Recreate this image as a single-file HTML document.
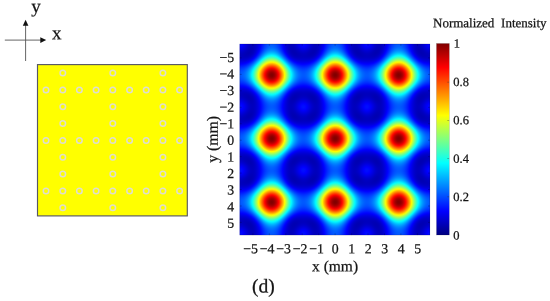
<!DOCTYPE html>
<html><head><meta charset="utf-8"><title>fig</title>
<style>html,body{margin:0;padding:0;background:#fff}svg{display:block}text{font-family:"Liberation Serif",serif;fill:#151515;stroke:#151515;stroke-width:0.25px}</style></head><body>
<svg width="550" height="301" viewBox="0 0 550 301">
<defs>
<linearGradient id="g0" gradientUnits="userSpaceOnUse" x1="0" y1="0" x2="32" y2="0" spreadMethod="reflect"><stop offset="0" stop-color="#800000"/><stop offset="0.03125" stop-color="#820000"/><stop offset="0.0625" stop-color="#8b0000"/><stop offset="0.09375" stop-color="#980000"/><stop offset="0.125" stop-color="#ab0000"/><stop offset="0.1562" stop-color="#c30000"/><stop offset="0.1875" stop-color="#e00000"/><stop offset="0.2188" stop-color="#ff0100"/><stop offset="0.25" stop-color="#ff2600"/><stop offset="0.2812" stop-color="#ff4d00"/><stop offset="0.3125" stop-color="#ff7600"/><stop offset="0.3438" stop-color="#ffa100"/><stop offset="0.375" stop-color="#ffcd00"/><stop offset="0.4062" stop-color="#fffa00"/><stop offset="0.4375" stop-color="#d9ff26"/><stop offset="0.4688" stop-color="#aeff51"/><stop offset="0.5" stop-color="#85ff7a"/><stop offset="0.5312" stop-color="#5effa1"/><stop offset="0.5625" stop-color="#39ffc6"/><stop offset="0.5938" stop-color="#18ffe7"/><stop offset="0.625" stop-color="#00f8ff"/><stop offset="0.6562" stop-color="#00dcff"/><stop offset="0.6875" stop-color="#00c3ff"/><stop offset="0.7188" stop-color="#00adff"/><stop offset="0.75" stop-color="#009aff"/><stop offset="0.7812" stop-color="#008aff"/><stop offset="0.8125" stop-color="#007dff"/><stop offset="0.8438" stop-color="#0071ff"/><stop offset="0.875" stop-color="#0069ff"/><stop offset="0.9062" stop-color="#0062ff"/><stop offset="0.9375" stop-color="#005dff"/><stop offset="0.9688" stop-color="#005aff"/><stop offset="1" stop-color="#0059ff"/></linearGradient>
<linearGradient id="g1" gradientUnits="userSpaceOnUse" x1="0" y1="0" x2="32" y2="0" spreadMethod="reflect"><stop offset="0" stop-color="#820000"/><stop offset="0.03125" stop-color="#850000"/><stop offset="0.0625" stop-color="#8d0000"/><stop offset="0.09375" stop-color="#9b0000"/><stop offset="0.125" stop-color="#ae0000"/><stop offset="0.1562" stop-color="#c60000"/><stop offset="0.1875" stop-color="#e20000"/><stop offset="0.2188" stop-color="#ff0400"/><stop offset="0.25" stop-color="#ff2800"/><stop offset="0.2812" stop-color="#ff4f00"/><stop offset="0.3125" stop-color="#ff7800"/><stop offset="0.3438" stop-color="#ffa300"/><stop offset="0.375" stop-color="#ffcf00"/><stop offset="0.4062" stop-color="#fffc00"/><stop offset="0.4375" stop-color="#d7ff28"/><stop offset="0.4688" stop-color="#acff53"/><stop offset="0.5" stop-color="#83ff7c"/><stop offset="0.5312" stop-color="#5cffa3"/><stop offset="0.5625" stop-color="#38ffc7"/><stop offset="0.5938" stop-color="#16ffe9"/><stop offset="0.625" stop-color="#00f6ff"/><stop offset="0.6562" stop-color="#00dbff"/><stop offset="0.6875" stop-color="#00c2ff"/><stop offset="0.7188" stop-color="#00acff"/><stop offset="0.75" stop-color="#0099ff"/><stop offset="0.7812" stop-color="#0089ff"/><stop offset="0.8125" stop-color="#007cff"/><stop offset="0.8438" stop-color="#0071ff"/><stop offset="0.875" stop-color="#0068ff"/><stop offset="0.9062" stop-color="#0061ff"/><stop offset="0.9375" stop-color="#005cff"/><stop offset="0.9688" stop-color="#0059ff"/><stop offset="1" stop-color="#0059ff"/></linearGradient>
<linearGradient id="g2" gradientUnits="userSpaceOnUse" x1="0" y1="0" x2="32" y2="0" spreadMethod="reflect"><stop offset="0" stop-color="#8b0000"/><stop offset="0.03125" stop-color="#8d0000"/><stop offset="0.0625" stop-color="#960000"/><stop offset="0.09375" stop-color="#a30000"/><stop offset="0.125" stop-color="#b60000"/><stop offset="0.1562" stop-color="#ce0000"/><stop offset="0.1875" stop-color="#ea0000"/><stop offset="0.2188" stop-color="#ff0b00"/><stop offset="0.25" stop-color="#ff2f00"/><stop offset="0.2812" stop-color="#ff5600"/><stop offset="0.3125" stop-color="#ff7f00"/><stop offset="0.3438" stop-color="#ffaa00"/><stop offset="0.375" stop-color="#ffd600"/><stop offset="0.4062" stop-color="#fdff02"/><stop offset="0.4375" stop-color="#d1ff2e"/><stop offset="0.4688" stop-color="#a7ff58"/><stop offset="0.5" stop-color="#7eff81"/><stop offset="0.5312" stop-color="#57ffa8"/><stop offset="0.5625" stop-color="#33ffcc"/><stop offset="0.5938" stop-color="#12ffed"/><stop offset="0.625" stop-color="#00f2ff"/><stop offset="0.6562" stop-color="#00d7ff"/><stop offset="0.6875" stop-color="#00beff"/><stop offset="0.7188" stop-color="#00a9ff"/><stop offset="0.75" stop-color="#0096ff"/><stop offset="0.7812" stop-color="#0086ff"/><stop offset="0.8125" stop-color="#0079ff"/><stop offset="0.8438" stop-color="#006eff"/><stop offset="0.875" stop-color="#0065ff"/><stop offset="0.9062" stop-color="#005fff"/><stop offset="0.9375" stop-color="#005aff"/><stop offset="0.9688" stop-color="#0057ff"/><stop offset="1" stop-color="#0056ff"/></linearGradient>
<linearGradient id="g3" gradientUnits="userSpaceOnUse" x1="0" y1="0" x2="32" y2="0" spreadMethod="reflect"><stop offset="0" stop-color="#980000"/><stop offset="0.03125" stop-color="#9b0000"/><stop offset="0.0625" stop-color="#a30000"/><stop offset="0.09375" stop-color="#b10000"/><stop offset="0.125" stop-color="#c30000"/><stop offset="0.1562" stop-color="#db0000"/><stop offset="0.1875" stop-color="#f60000"/><stop offset="0.2188" stop-color="#ff1700"/><stop offset="0.25" stop-color="#ff3b00"/><stop offset="0.2812" stop-color="#ff6100"/><stop offset="0.3125" stop-color="#ff8a00"/><stop offset="0.3438" stop-color="#ffb500"/><stop offset="0.375" stop-color="#ffe000"/><stop offset="0.4062" stop-color="#f3ff0c"/><stop offset="0.4375" stop-color="#c8ff37"/><stop offset="0.4688" stop-color="#9eff61"/><stop offset="0.5" stop-color="#75ff8a"/><stop offset="0.5312" stop-color="#4fffb0"/><stop offset="0.5625" stop-color="#2bffd4"/><stop offset="0.5938" stop-color="#0afff5"/><stop offset="0.625" stop-color="#00ebff"/><stop offset="0.6562" stop-color="#00d0ff"/><stop offset="0.6875" stop-color="#00b8ff"/><stop offset="0.7188" stop-color="#00a3ff"/><stop offset="0.75" stop-color="#0091ff"/><stop offset="0.7812" stop-color="#0081ff"/><stop offset="0.8125" stop-color="#0074ff"/><stop offset="0.8438" stop-color="#0069ff"/><stop offset="0.875" stop-color="#0061ff"/><stop offset="0.9062" stop-color="#005bff"/><stop offset="0.9375" stop-color="#0056ff"/><stop offset="0.9688" stop-color="#0053ff"/><stop offset="1" stop-color="#0052ff"/></linearGradient>
<linearGradient id="g4" gradientUnits="userSpaceOnUse" x1="0" y1="0" x2="32" y2="0" spreadMethod="reflect"><stop offset="0" stop-color="#ab0000"/><stop offset="0.03125" stop-color="#ae0000"/><stop offset="0.0625" stop-color="#b60000"/><stop offset="0.09375" stop-color="#c30000"/><stop offset="0.125" stop-color="#d50000"/><stop offset="0.1562" stop-color="#ec0000"/><stop offset="0.1875" stop-color="#ff0900"/><stop offset="0.2188" stop-color="#ff2800"/><stop offset="0.25" stop-color="#ff4b00"/><stop offset="0.2812" stop-color="#ff7100"/><stop offset="0.3125" stop-color="#ff9900"/><stop offset="0.3438" stop-color="#ffc300"/><stop offset="0.375" stop-color="#ffee00"/><stop offset="0.4062" stop-color="#e5ff1a"/><stop offset="0.4375" stop-color="#baff45"/><stop offset="0.4688" stop-color="#91ff6e"/><stop offset="0.5" stop-color="#69ff96"/><stop offset="0.5312" stop-color="#43ffbc"/><stop offset="0.5625" stop-color="#20ffdf"/><stop offset="0.5938" stop-color="#00ffff"/><stop offset="0.625" stop-color="#00e1ff"/><stop offset="0.6562" stop-color="#00c7ff"/><stop offset="0.6875" stop-color="#00afff"/><stop offset="0.7188" stop-color="#009bff"/><stop offset="0.75" stop-color="#0089ff"/><stop offset="0.7812" stop-color="#007aff"/><stop offset="0.8125" stop-color="#006dff"/><stop offset="0.8438" stop-color="#0063ff"/><stop offset="0.875" stop-color="#005bff"/><stop offset="0.9062" stop-color="#0055ff"/><stop offset="0.9375" stop-color="#0051ff"/><stop offset="0.9688" stop-color="#004eff"/><stop offset="1" stop-color="#004dff"/></linearGradient>
<linearGradient id="g5" gradientUnits="userSpaceOnUse" x1="0" y1="0" x2="32" y2="0" spreadMethod="reflect"><stop offset="0" stop-color="#c30000"/><stop offset="0.03125" stop-color="#c60000"/><stop offset="0.0625" stop-color="#ce0000"/><stop offset="0.09375" stop-color="#db0000"/><stop offset="0.125" stop-color="#ec0000"/><stop offset="0.1562" stop-color="#ff0400"/><stop offset="0.1875" stop-color="#ff1f00"/><stop offset="0.2188" stop-color="#ff3e00"/><stop offset="0.25" stop-color="#ff6000"/><stop offset="0.2812" stop-color="#ff8500"/><stop offset="0.3125" stop-color="#ffad00"/><stop offset="0.3438" stop-color="#ffd600"/><stop offset="0.375" stop-color="#feff01"/><stop offset="0.4062" stop-color="#d3ff2c"/><stop offset="0.4375" stop-color="#a9ff56"/><stop offset="0.4688" stop-color="#81ff7e"/><stop offset="0.5" stop-color="#5affa5"/><stop offset="0.5312" stop-color="#35ffca"/><stop offset="0.5625" stop-color="#12ffed"/><stop offset="0.5938" stop-color="#00f1ff"/><stop offset="0.625" stop-color="#00d5ff"/><stop offset="0.6562" stop-color="#00bbff"/><stop offset="0.6875" stop-color="#00a4ff"/><stop offset="0.7188" stop-color="#0090ff"/><stop offset="0.75" stop-color="#007fff"/><stop offset="0.7812" stop-color="#0071ff"/><stop offset="0.8125" stop-color="#0065ff"/><stop offset="0.8438" stop-color="#005bff"/><stop offset="0.875" stop-color="#0053ff"/><stop offset="0.9062" stop-color="#004dff"/><stop offset="0.9375" stop-color="#0049ff"/><stop offset="0.9688" stop-color="#0047ff"/><stop offset="1" stop-color="#0046ff"/></linearGradient>
<linearGradient id="g6" gradientUnits="userSpaceOnUse" x1="0" y1="0" x2="32" y2="0" spreadMethod="reflect"><stop offset="0" stop-color="#e00000"/><stop offset="0.03125" stop-color="#e20000"/><stop offset="0.0625" stop-color="#ea0000"/><stop offset="0.09375" stop-color="#f60000"/><stop offset="0.125" stop-color="#ff0900"/><stop offset="0.1562" stop-color="#ff1f00"/><stop offset="0.1875" stop-color="#ff3900"/><stop offset="0.2188" stop-color="#ff5700"/><stop offset="0.25" stop-color="#ff7900"/><stop offset="0.2812" stop-color="#ff9e00"/><stop offset="0.3125" stop-color="#ffc400"/><stop offset="0.3438" stop-color="#ffed00"/><stop offset="0.375" stop-color="#e8ff17"/><stop offset="0.4062" stop-color="#beff41"/><stop offset="0.4375" stop-color="#95ff6a"/><stop offset="0.4688" stop-color="#6dff92"/><stop offset="0.5" stop-color="#47ffb8"/><stop offset="0.5312" stop-color="#23ffdc"/><stop offset="0.5625" stop-color="#01fffe"/><stop offset="0.5938" stop-color="#00e1ff"/><stop offset="0.625" stop-color="#00c5ff"/><stop offset="0.6562" stop-color="#00adff"/><stop offset="0.6875" stop-color="#0097ff"/><stop offset="0.7188" stop-color="#0084ff"/><stop offset="0.75" stop-color="#0073ff"/><stop offset="0.7812" stop-color="#0066ff"/><stop offset="0.8125" stop-color="#005aff"/><stop offset="0.8438" stop-color="#0051ff"/><stop offset="0.875" stop-color="#004aff"/><stop offset="0.9062" stop-color="#0044ff"/><stop offset="0.9375" stop-color="#0041ff"/><stop offset="0.9688" stop-color="#003eff"/><stop offset="1" stop-color="#003eff"/></linearGradient>
<linearGradient id="g7" gradientUnits="userSpaceOnUse" x1="0" y1="0" x2="32" y2="0" spreadMethod="reflect"><stop offset="0" stop-color="#ff0100"/><stop offset="0.03125" stop-color="#ff0400"/><stop offset="0.0625" stop-color="#ff0b00"/><stop offset="0.09375" stop-color="#ff1700"/><stop offset="0.125" stop-color="#ff2800"/><stop offset="0.1562" stop-color="#ff3e00"/><stop offset="0.1875" stop-color="#ff5700"/><stop offset="0.2188" stop-color="#ff7500"/><stop offset="0.25" stop-color="#ff9600"/><stop offset="0.2812" stop-color="#ffba00"/><stop offset="0.3125" stop-color="#ffe000"/><stop offset="0.3438" stop-color="#f7ff08"/><stop offset="0.375" stop-color="#ceff31"/><stop offset="0.4062" stop-color="#a6ff59"/><stop offset="0.4375" stop-color="#7dff82"/><stop offset="0.4688" stop-color="#56ffa9"/><stop offset="0.5" stop-color="#31ffce"/><stop offset="0.5312" stop-color="#0efff1"/><stop offset="0.5625" stop-color="#00ecff"/><stop offset="0.5938" stop-color="#00cfff"/><stop offset="0.625" stop-color="#00b4ff"/><stop offset="0.6562" stop-color="#009cff"/><stop offset="0.6875" stop-color="#0087ff"/><stop offset="0.7188" stop-color="#0075ff"/><stop offset="0.75" stop-color="#0066ff"/><stop offset="0.7812" stop-color="#0059ff"/><stop offset="0.8125" stop-color="#004eff"/><stop offset="0.8438" stop-color="#0045ff"/><stop offset="0.875" stop-color="#003fff"/><stop offset="0.9062" stop-color="#003aff"/><stop offset="0.9375" stop-color="#0036ff"/><stop offset="0.9688" stop-color="#0034ff"/><stop offset="1" stop-color="#0034ff"/></linearGradient>
<linearGradient id="g8" gradientUnits="userSpaceOnUse" x1="0" y1="0" x2="32" y2="0" spreadMethod="reflect"><stop offset="0" stop-color="#ff2600"/><stop offset="0.03125" stop-color="#ff2800"/><stop offset="0.0625" stop-color="#ff2f00"/><stop offset="0.09375" stop-color="#ff3b00"/><stop offset="0.125" stop-color="#ff4b00"/><stop offset="0.1562" stop-color="#ff6000"/><stop offset="0.1875" stop-color="#ff7900"/><stop offset="0.2188" stop-color="#ff9600"/><stop offset="0.25" stop-color="#ffb600"/><stop offset="0.2812" stop-color="#ffd900"/><stop offset="0.3125" stop-color="#fffe00"/><stop offset="0.3438" stop-color="#d9ff26"/><stop offset="0.375" stop-color="#b2ff4d"/><stop offset="0.4062" stop-color="#8aff75"/><stop offset="0.4375" stop-color="#63ff9c"/><stop offset="0.4688" stop-color="#3dffc2"/><stop offset="0.5" stop-color="#19ffe6"/><stop offset="0.5312" stop-color="#00f6ff"/><stop offset="0.5625" stop-color="#00d6ff"/><stop offset="0.5938" stop-color="#00baff"/><stop offset="0.625" stop-color="#00a0ff"/><stop offset="0.6562" stop-color="#0089ff"/><stop offset="0.6875" stop-color="#0075ff"/><stop offset="0.7188" stop-color="#0064ff"/><stop offset="0.75" stop-color="#0056ff"/><stop offset="0.7812" stop-color="#004aff"/><stop offset="0.8125" stop-color="#0040ff"/><stop offset="0.8438" stop-color="#0038ff"/><stop offset="0.875" stop-color="#0032ff"/><stop offset="0.9062" stop-color="#002eff"/><stop offset="0.9375" stop-color="#002bff"/><stop offset="0.9688" stop-color="#0029ff"/><stop offset="1" stop-color="#0028ff"/></linearGradient>
<linearGradient id="g9" gradientUnits="userSpaceOnUse" x1="0" y1="0" x2="32" y2="0" spreadMethod="reflect"><stop offset="0" stop-color="#ff4d00"/><stop offset="0.03125" stop-color="#ff4f00"/><stop offset="0.0625" stop-color="#ff5600"/><stop offset="0.09375" stop-color="#ff6100"/><stop offset="0.125" stop-color="#ff7100"/><stop offset="0.1562" stop-color="#ff8500"/><stop offset="0.1875" stop-color="#ff9e00"/><stop offset="0.2188" stop-color="#ffba00"/><stop offset="0.25" stop-color="#ffd900"/><stop offset="0.2812" stop-color="#fffb00"/><stop offset="0.3125" stop-color="#dfff20"/><stop offset="0.3438" stop-color="#b9ff46"/><stop offset="0.375" stop-color="#93ff6c"/><stop offset="0.4062" stop-color="#6cff93"/><stop offset="0.4375" stop-color="#46ffb9"/><stop offset="0.4688" stop-color="#21ffde"/><stop offset="0.5" stop-color="#00fdff"/><stop offset="0.5312" stop-color="#00dcff"/><stop offset="0.5625" stop-color="#00beff"/><stop offset="0.5938" stop-color="#00a3ff"/><stop offset="0.625" stop-color="#008aff"/><stop offset="0.6562" stop-color="#0075ff"/><stop offset="0.6875" stop-color="#0062ff"/><stop offset="0.7188" stop-color="#0052ff"/><stop offset="0.75" stop-color="#0045ff"/><stop offset="0.7812" stop-color="#003aff"/><stop offset="0.8125" stop-color="#0031ff"/><stop offset="0.8438" stop-color="#002aff"/><stop offset="0.875" stop-color="#0025ff"/><stop offset="0.9062" stop-color="#0021ff"/><stop offset="0.9375" stop-color="#001eff"/><stop offset="0.9688" stop-color="#001cff"/><stop offset="1" stop-color="#001cff"/></linearGradient>
<linearGradient id="g10" gradientUnits="userSpaceOnUse" x1="0" y1="0" x2="32" y2="0" spreadMethod="reflect"><stop offset="0" stop-color="#ff7600"/><stop offset="0.03125" stop-color="#ff7800"/><stop offset="0.0625" stop-color="#ff7f00"/><stop offset="0.09375" stop-color="#ff8a00"/><stop offset="0.125" stop-color="#ff9900"/><stop offset="0.1562" stop-color="#ffad00"/><stop offset="0.1875" stop-color="#ffc400"/><stop offset="0.2188" stop-color="#ffe000"/><stop offset="0.25" stop-color="#fffe00"/><stop offset="0.2812" stop-color="#dfff20"/><stop offset="0.3125" stop-color="#bcff43"/><stop offset="0.3438" stop-color="#97ff68"/><stop offset="0.375" stop-color="#72ff8d"/><stop offset="0.4062" stop-color="#4cffb3"/><stop offset="0.4375" stop-color="#27ffd8"/><stop offset="0.4688" stop-color="#03fffc"/><stop offset="0.5" stop-color="#00e1ff"/><stop offset="0.5312" stop-color="#00c1ff"/><stop offset="0.5625" stop-color="#00a4ff"/><stop offset="0.5938" stop-color="#008aff"/><stop offset="0.625" stop-color="#0073ff"/><stop offset="0.6562" stop-color="#005fff"/><stop offset="0.6875" stop-color="#004eff"/><stop offset="0.7188" stop-color="#003fff"/><stop offset="0.75" stop-color="#0033ff"/><stop offset="0.7812" stop-color="#0029ff"/><stop offset="0.8125" stop-color="#0021ff"/><stop offset="0.8438" stop-color="#001bff"/><stop offset="0.875" stop-color="#0016ff"/><stop offset="0.9062" stop-color="#0013ff"/><stop offset="0.9375" stop-color="#0010ff"/><stop offset="0.9688" stop-color="#000fff"/><stop offset="1" stop-color="#000fff"/></linearGradient>
<linearGradient id="g11" gradientUnits="userSpaceOnUse" x1="0" y1="0" x2="32" y2="0" spreadMethod="reflect"><stop offset="0" stop-color="#ffa100"/><stop offset="0.03125" stop-color="#ffa300"/><stop offset="0.0625" stop-color="#ffaa00"/><stop offset="0.09375" stop-color="#ffb500"/><stop offset="0.125" stop-color="#ffc300"/><stop offset="0.1562" stop-color="#ffd600"/><stop offset="0.1875" stop-color="#ffed00"/><stop offset="0.2188" stop-color="#f7ff08"/><stop offset="0.25" stop-color="#d9ff26"/><stop offset="0.2812" stop-color="#b9ff46"/><stop offset="0.3125" stop-color="#97ff68"/><stop offset="0.3438" stop-color="#73ff8c"/><stop offset="0.375" stop-color="#4fffb0"/><stop offset="0.4062" stop-color="#2bffd4"/><stop offset="0.4375" stop-color="#07fff8"/><stop offset="0.4688" stop-color="#00e4ff"/><stop offset="0.5" stop-color="#00c3ff"/><stop offset="0.5312" stop-color="#00a5ff"/><stop offset="0.5625" stop-color="#008aff"/><stop offset="0.5938" stop-color="#0071ff"/><stop offset="0.625" stop-color="#005cff"/><stop offset="0.6562" stop-color="#0049ff"/><stop offset="0.6875" stop-color="#0039ff"/><stop offset="0.7188" stop-color="#002cff"/><stop offset="0.75" stop-color="#0021ff"/><stop offset="0.7812" stop-color="#0018ff"/><stop offset="0.8125" stop-color="#0011ff"/><stop offset="0.8438" stop-color="#000cff"/><stop offset="0.875" stop-color="#0008ff"/><stop offset="0.9062" stop-color="#0005ff"/><stop offset="0.9375" stop-color="#0003ff"/><stop offset="0.9688" stop-color="#0002ff"/><stop offset="1" stop-color="#0001ff"/></linearGradient>
<linearGradient id="g12" gradientUnits="userSpaceOnUse" x1="0" y1="0" x2="32" y2="0" spreadMethod="reflect"><stop offset="0" stop-color="#ffcd00"/><stop offset="0.03125" stop-color="#ffcf00"/><stop offset="0.0625" stop-color="#ffd600"/><stop offset="0.09375" stop-color="#ffe000"/><stop offset="0.125" stop-color="#ffee00"/><stop offset="0.1562" stop-color="#feff01"/><stop offset="0.1875" stop-color="#e8ff17"/><stop offset="0.2188" stop-color="#ceff31"/><stop offset="0.25" stop-color="#b2ff4d"/><stop offset="0.2812" stop-color="#93ff6c"/><stop offset="0.3125" stop-color="#72ff8d"/><stop offset="0.3438" stop-color="#4fffb0"/><stop offset="0.375" stop-color="#2cffd3"/><stop offset="0.4062" stop-color="#09fff6"/><stop offset="0.4375" stop-color="#00e6ff"/><stop offset="0.4688" stop-color="#00c5ff"/><stop offset="0.5" stop-color="#00a6ff"/><stop offset="0.5312" stop-color="#0089ff"/><stop offset="0.5625" stop-color="#006fff"/><stop offset="0.5938" stop-color="#0058ff"/><stop offset="0.625" stop-color="#0044ff"/><stop offset="0.6562" stop-color="#0033ff"/><stop offset="0.6875" stop-color="#0025ff"/><stop offset="0.7188" stop-color="#0019ff"/><stop offset="0.75" stop-color="#000fff"/><stop offset="0.7812" stop-color="#0007ff"/><stop offset="0.8125" stop-color="#0001ff"/><stop offset="0.8438" stop-color="#0000fc"/><stop offset="0.875" stop-color="#0000f8"/><stop offset="0.9062" stop-color="#0000f6"/><stop offset="0.9375" stop-color="#0000f4"/><stop offset="0.9688" stop-color="#0000f3"/><stop offset="1" stop-color="#0000f3"/></linearGradient>
<linearGradient id="g13" gradientUnits="userSpaceOnUse" x1="0" y1="0" x2="32" y2="0" spreadMethod="reflect"><stop offset="0" stop-color="#fffa00"/><stop offset="0.03125" stop-color="#fffc00"/><stop offset="0.0625" stop-color="#fdff02"/><stop offset="0.09375" stop-color="#f3ff0c"/><stop offset="0.125" stop-color="#e5ff1a"/><stop offset="0.1562" stop-color="#d3ff2c"/><stop offset="0.1875" stop-color="#beff41"/><stop offset="0.2188" stop-color="#a6ff59"/><stop offset="0.25" stop-color="#8aff75"/><stop offset="0.2812" stop-color="#6cff93"/><stop offset="0.3125" stop-color="#4cffb3"/><stop offset="0.3438" stop-color="#2bffd4"/><stop offset="0.375" stop-color="#09fff6"/><stop offset="0.4062" stop-color="#00e6ff"/><stop offset="0.4375" stop-color="#00c5ff"/><stop offset="0.4688" stop-color="#00a6ff"/><stop offset="0.5" stop-color="#0089ff"/><stop offset="0.5312" stop-color="#006eff"/><stop offset="0.5625" stop-color="#0056ff"/><stop offset="0.5938" stop-color="#0040ff"/><stop offset="0.625" stop-color="#002eff"/><stop offset="0.6562" stop-color="#001eff"/><stop offset="0.6875" stop-color="#0011ff"/><stop offset="0.7188" stop-color="#0006ff"/><stop offset="0.75" stop-color="#0000fd"/><stop offset="0.7812" stop-color="#0000f6"/><stop offset="0.8125" stop-color="#0000f1"/><stop offset="0.8438" stop-color="#0000ed"/><stop offset="0.875" stop-color="#0000eb"/><stop offset="0.9062" stop-color="#0000e9"/><stop offset="0.9375" stop-color="#0000e8"/><stop offset="0.9688" stop-color="#0000e7"/><stop offset="1" stop-color="#0000e7"/></linearGradient>
<linearGradient id="g14" gradientUnits="userSpaceOnUse" x1="0" y1="0" x2="32" y2="0" spreadMethod="reflect"><stop offset="0" stop-color="#d9ff26"/><stop offset="0.03125" stop-color="#d7ff28"/><stop offset="0.0625" stop-color="#d1ff2e"/><stop offset="0.09375" stop-color="#c8ff37"/><stop offset="0.125" stop-color="#baff45"/><stop offset="0.1562" stop-color="#a9ff56"/><stop offset="0.1875" stop-color="#95ff6a"/><stop offset="0.2188" stop-color="#7dff82"/><stop offset="0.25" stop-color="#63ff9c"/><stop offset="0.2812" stop-color="#46ffb9"/><stop offset="0.3125" stop-color="#27ffd8"/><stop offset="0.3438" stop-color="#07fff8"/><stop offset="0.375" stop-color="#00e6ff"/><stop offset="0.4062" stop-color="#00c5ff"/><stop offset="0.4375" stop-color="#00a6ff"/><stop offset="0.4688" stop-color="#0088ff"/><stop offset="0.5" stop-color="#006dff"/><stop offset="0.5312" stop-color="#0053ff"/><stop offset="0.5625" stop-color="#003dff"/><stop offset="0.5938" stop-color="#0029ff"/><stop offset="0.625" stop-color="#0018ff"/><stop offset="0.6562" stop-color="#000aff"/><stop offset="0.6875" stop-color="#0000fe"/><stop offset="0.7188" stop-color="#0000f4"/><stop offset="0.75" stop-color="#0000ed"/><stop offset="0.7812" stop-color="#0000e7"/><stop offset="0.8125" stop-color="#0000e3"/><stop offset="0.8438" stop-color="#0000e0"/><stop offset="0.875" stop-color="#0000de"/><stop offset="0.9062" stop-color="#0000dd"/><stop offset="0.9375" stop-color="#0000dc"/><stop offset="0.9688" stop-color="#0000dc"/><stop offset="1" stop-color="#0000dc"/></linearGradient>
<linearGradient id="g15" gradientUnits="userSpaceOnUse" x1="0" y1="0" x2="32" y2="0" spreadMethod="reflect"><stop offset="0" stop-color="#aeff51"/><stop offset="0.03125" stop-color="#acff53"/><stop offset="0.0625" stop-color="#a7ff58"/><stop offset="0.09375" stop-color="#9eff61"/><stop offset="0.125" stop-color="#91ff6e"/><stop offset="0.1562" stop-color="#81ff7e"/><stop offset="0.1875" stop-color="#6dff92"/><stop offset="0.2188" stop-color="#56ffa9"/><stop offset="0.25" stop-color="#3dffc2"/><stop offset="0.2812" stop-color="#21ffde"/><stop offset="0.3125" stop-color="#03fffc"/><stop offset="0.3438" stop-color="#00e4ff"/><stop offset="0.375" stop-color="#00c5ff"/><stop offset="0.4062" stop-color="#00a6ff"/><stop offset="0.4375" stop-color="#0088ff"/><stop offset="0.4688" stop-color="#006cff"/><stop offset="0.5" stop-color="#0052ff"/><stop offset="0.5312" stop-color="#003bff"/><stop offset="0.5625" stop-color="#0026ff"/><stop offset="0.5938" stop-color="#0014ff"/><stop offset="0.625" stop-color="#0005ff"/><stop offset="0.6562" stop-color="#0000f7"/><stop offset="0.6875" stop-color="#0000ed"/><stop offset="0.7188" stop-color="#0000e5"/><stop offset="0.75" stop-color="#0000df"/><stop offset="0.7812" stop-color="#0000da"/><stop offset="0.8125" stop-color="#0000d7"/><stop offset="0.8438" stop-color="#0000d5"/><stop offset="0.875" stop-color="#0000d3"/><stop offset="0.9062" stop-color="#0000d3"/><stop offset="0.9375" stop-color="#0000d2"/><stop offset="0.9688" stop-color="#0000d2"/><stop offset="1" stop-color="#0000d2"/></linearGradient>
<linearGradient id="g16" gradientUnits="userSpaceOnUse" x1="0" y1="0" x2="32" y2="0" spreadMethod="reflect"><stop offset="0" stop-color="#85ff7a"/><stop offset="0.03125" stop-color="#83ff7c"/><stop offset="0.0625" stop-color="#7eff81"/><stop offset="0.09375" stop-color="#75ff8a"/><stop offset="0.125" stop-color="#69ff96"/><stop offset="0.1562" stop-color="#5affa5"/><stop offset="0.1875" stop-color="#47ffb8"/><stop offset="0.2188" stop-color="#31ffce"/><stop offset="0.25" stop-color="#19ffe6"/><stop offset="0.2812" stop-color="#00fdff"/><stop offset="0.3125" stop-color="#00e1ff"/><stop offset="0.3438" stop-color="#00c3ff"/><stop offset="0.375" stop-color="#00a6ff"/><stop offset="0.4062" stop-color="#0089ff"/><stop offset="0.4375" stop-color="#006dff"/><stop offset="0.4688" stop-color="#0052ff"/><stop offset="0.5" stop-color="#003aff"/><stop offset="0.5312" stop-color="#0024ff"/><stop offset="0.5625" stop-color="#0011ff"/><stop offset="0.5938" stop-color="#0001ff"/><stop offset="0.625" stop-color="#0000f2"/><stop offset="0.6562" stop-color="#0000e7"/><stop offset="0.6875" stop-color="#0000de"/><stop offset="0.7188" stop-color="#0000d7"/><stop offset="0.75" stop-color="#0000d2"/><stop offset="0.7812" stop-color="#0000cf"/><stop offset="0.8125" stop-color="#0000cc"/><stop offset="0.8438" stop-color="#0000cb"/><stop offset="0.875" stop-color="#0000ca"/><stop offset="0.9062" stop-color="#0000ca"/><stop offset="0.9375" stop-color="#0000ca"/><stop offset="0.9688" stop-color="#0000ca"/><stop offset="1" stop-color="#0000ca"/></linearGradient>
<linearGradient id="g17" gradientUnits="userSpaceOnUse" x1="0" y1="0" x2="32" y2="0" spreadMethod="reflect"><stop offset="0" stop-color="#5effa1"/><stop offset="0.03125" stop-color="#5cffa3"/><stop offset="0.0625" stop-color="#57ffa8"/><stop offset="0.09375" stop-color="#4fffb0"/><stop offset="0.125" stop-color="#43ffbc"/><stop offset="0.1562" stop-color="#35ffca"/><stop offset="0.1875" stop-color="#23ffdc"/><stop offset="0.2188" stop-color="#0efff1"/><stop offset="0.25" stop-color="#00f6ff"/><stop offset="0.2812" stop-color="#00dcff"/><stop offset="0.3125" stop-color="#00c1ff"/><stop offset="0.3438" stop-color="#00a5ff"/><stop offset="0.375" stop-color="#0089ff"/><stop offset="0.4062" stop-color="#006eff"/><stop offset="0.4375" stop-color="#0053ff"/><stop offset="0.4688" stop-color="#003bff"/><stop offset="0.5" stop-color="#0024ff"/><stop offset="0.5312" stop-color="#0010ff"/><stop offset="0.5625" stop-color="#0000fe"/><stop offset="0.5938" stop-color="#0000ef"/><stop offset="0.625" stop-color="#0000e3"/><stop offset="0.6562" stop-color="#0000d9"/><stop offset="0.6875" stop-color="#0000d2"/><stop offset="0.7188" stop-color="#0000cc"/><stop offset="0.75" stop-color="#0000c8"/><stop offset="0.7812" stop-color="#0000c5"/><stop offset="0.8125" stop-color="#0000c4"/><stop offset="0.8438" stop-color="#0000c3"/><stop offset="0.875" stop-color="#0000c3"/><stop offset="0.9062" stop-color="#0000c3"/><stop offset="0.9375" stop-color="#0000c3"/><stop offset="0.9688" stop-color="#0000c4"/><stop offset="1" stop-color="#0000c4"/></linearGradient>
<linearGradient id="g18" gradientUnits="userSpaceOnUse" x1="0" y1="0" x2="32" y2="0" spreadMethod="reflect"><stop offset="0" stop-color="#39ffc6"/><stop offset="0.03125" stop-color="#38ffc7"/><stop offset="0.0625" stop-color="#33ffcc"/><stop offset="0.09375" stop-color="#2bffd4"/><stop offset="0.125" stop-color="#20ffdf"/><stop offset="0.1562" stop-color="#12ffed"/><stop offset="0.1875" stop-color="#01fffe"/><stop offset="0.2188" stop-color="#00ecff"/><stop offset="0.25" stop-color="#00d6ff"/><stop offset="0.2812" stop-color="#00beff"/><stop offset="0.3125" stop-color="#00a4ff"/><stop offset="0.3438" stop-color="#008aff"/><stop offset="0.375" stop-color="#006fff"/><stop offset="0.4062" stop-color="#0056ff"/><stop offset="0.4375" stop-color="#003dff"/><stop offset="0.4688" stop-color="#0026ff"/><stop offset="0.5" stop-color="#0011ff"/><stop offset="0.5312" stop-color="#0000fe"/><stop offset="0.5625" stop-color="#0000ee"/><stop offset="0.5938" stop-color="#0000e1"/><stop offset="0.625" stop-color="#0000d6"/><stop offset="0.6562" stop-color="#0000ce"/><stop offset="0.6875" stop-color="#0000c7"/><stop offset="0.7188" stop-color="#0000c3"/><stop offset="0.75" stop-color="#0000c0"/><stop offset="0.7812" stop-color="#0000be"/><stop offset="0.8125" stop-color="#0000bd"/><stop offset="0.8438" stop-color="#0000bd"/><stop offset="0.875" stop-color="#0000be"/><stop offset="0.9062" stop-color="#0000be"/><stop offset="0.9375" stop-color="#0000bf"/><stop offset="0.9688" stop-color="#0000bf"/><stop offset="1" stop-color="#0000c0"/></linearGradient>
<linearGradient id="g19" gradientUnits="userSpaceOnUse" x1="0" y1="0" x2="32" y2="0" spreadMethod="reflect"><stop offset="0" stop-color="#18ffe7"/><stop offset="0.03125" stop-color="#16ffe9"/><stop offset="0.0625" stop-color="#12ffed"/><stop offset="0.09375" stop-color="#0afff5"/><stop offset="0.125" stop-color="#00ffff"/><stop offset="0.1562" stop-color="#00f1ff"/><stop offset="0.1875" stop-color="#00e1ff"/><stop offset="0.2188" stop-color="#00cfff"/><stop offset="0.25" stop-color="#00baff"/><stop offset="0.2812" stop-color="#00a3ff"/><stop offset="0.3125" stop-color="#008aff"/><stop offset="0.3438" stop-color="#0071ff"/><stop offset="0.375" stop-color="#0058ff"/><stop offset="0.4062" stop-color="#0040ff"/><stop offset="0.4375" stop-color="#0029ff"/><stop offset="0.4688" stop-color="#0014ff"/><stop offset="0.5" stop-color="#0001ff"/><stop offset="0.5312" stop-color="#0000ef"/><stop offset="0.5625" stop-color="#0000e1"/><stop offset="0.5938" stop-color="#0000d5"/><stop offset="0.625" stop-color="#0000cc"/><stop offset="0.6562" stop-color="#0000c5"/><stop offset="0.6875" stop-color="#0000bf"/><stop offset="0.7188" stop-color="#0000bc"/><stop offset="0.75" stop-color="#0000ba"/><stop offset="0.7812" stop-color="#0000b9"/><stop offset="0.8125" stop-color="#0000b9"/><stop offset="0.8438" stop-color="#0000b9"/><stop offset="0.875" stop-color="#0000ba"/><stop offset="0.9062" stop-color="#0000bc"/><stop offset="0.9375" stop-color="#0000bc"/><stop offset="0.9688" stop-color="#0000bd"/><stop offset="1" stop-color="#0000bd"/></linearGradient>
<linearGradient id="g20" gradientUnits="userSpaceOnUse" x1="0" y1="0" x2="32" y2="0" spreadMethod="reflect"><stop offset="0" stop-color="#00f8ff"/><stop offset="0.03125" stop-color="#00f6ff"/><stop offset="0.0625" stop-color="#00f2ff"/><stop offset="0.09375" stop-color="#00ebff"/><stop offset="0.125" stop-color="#00e1ff"/><stop offset="0.1562" stop-color="#00d5ff"/><stop offset="0.1875" stop-color="#00c5ff"/><stop offset="0.2188" stop-color="#00b4ff"/><stop offset="0.25" stop-color="#00a0ff"/><stop offset="0.2812" stop-color="#008aff"/><stop offset="0.3125" stop-color="#0073ff"/><stop offset="0.3438" stop-color="#005cff"/><stop offset="0.375" stop-color="#0044ff"/><stop offset="0.4062" stop-color="#002eff"/><stop offset="0.4375" stop-color="#0018ff"/><stop offset="0.4688" stop-color="#0005ff"/><stop offset="0.5" stop-color="#0000f2"/><stop offset="0.5312" stop-color="#0000e3"/><stop offset="0.5625" stop-color="#0000d6"/><stop offset="0.5938" stop-color="#0000cc"/><stop offset="0.625" stop-color="#0000c4"/><stop offset="0.6562" stop-color="#0000be"/><stop offset="0.6875" stop-color="#0000ba"/><stop offset="0.7188" stop-color="#0000b7"/><stop offset="0.75" stop-color="#0000b6"/><stop offset="0.7812" stop-color="#0000b6"/><stop offset="0.8125" stop-color="#0000b6"/><stop offset="0.8438" stop-color="#0000b8"/><stop offset="0.875" stop-color="#0000b9"/><stop offset="0.9062" stop-color="#0000bb"/><stop offset="0.9375" stop-color="#0000bc"/><stop offset="0.9688" stop-color="#0000bd"/><stop offset="1" stop-color="#0000bd"/></linearGradient>
<linearGradient id="g21" gradientUnits="userSpaceOnUse" x1="0" y1="0" x2="32" y2="0" spreadMethod="reflect"><stop offset="0" stop-color="#00dcff"/><stop offset="0.03125" stop-color="#00dbff"/><stop offset="0.0625" stop-color="#00d7ff"/><stop offset="0.09375" stop-color="#00d0ff"/><stop offset="0.125" stop-color="#00c7ff"/><stop offset="0.1562" stop-color="#00bbff"/><stop offset="0.1875" stop-color="#00adff"/><stop offset="0.2188" stop-color="#009cff"/><stop offset="0.25" stop-color="#0089ff"/><stop offset="0.2812" stop-color="#0075ff"/><stop offset="0.3125" stop-color="#005fff"/><stop offset="0.3438" stop-color="#0049ff"/><stop offset="0.375" stop-color="#0033ff"/><stop offset="0.4062" stop-color="#001eff"/><stop offset="0.4375" stop-color="#000aff"/><stop offset="0.4688" stop-color="#0000f7"/><stop offset="0.5" stop-color="#0000e7"/><stop offset="0.5312" stop-color="#0000d9"/><stop offset="0.5625" stop-color="#0000ce"/><stop offset="0.5938" stop-color="#0000c5"/><stop offset="0.625" stop-color="#0000be"/><stop offset="0.6562" stop-color="#0000b9"/><stop offset="0.6875" stop-color="#0000b6"/><stop offset="0.7188" stop-color="#0000b4"/><stop offset="0.75" stop-color="#0000b3"/><stop offset="0.7812" stop-color="#0000b4"/><stop offset="0.8125" stop-color="#0000b6"/><stop offset="0.8438" stop-color="#0000b8"/><stop offset="0.875" stop-color="#0000ba"/><stop offset="0.9062" stop-color="#0000bc"/><stop offset="0.9375" stop-color="#0000be"/><stop offset="0.9688" stop-color="#0000bf"/><stop offset="1" stop-color="#0000bf"/></linearGradient>
<linearGradient id="g22" gradientUnits="userSpaceOnUse" x1="0" y1="0" x2="32" y2="0" spreadMethod="reflect"><stop offset="0" stop-color="#00c3ff"/><stop offset="0.03125" stop-color="#00c2ff"/><stop offset="0.0625" stop-color="#00beff"/><stop offset="0.09375" stop-color="#00b8ff"/><stop offset="0.125" stop-color="#00afff"/><stop offset="0.1562" stop-color="#00a4ff"/><stop offset="0.1875" stop-color="#0097ff"/><stop offset="0.2188" stop-color="#0087ff"/><stop offset="0.25" stop-color="#0075ff"/><stop offset="0.2812" stop-color="#0062ff"/><stop offset="0.3125" stop-color="#004eff"/><stop offset="0.3438" stop-color="#0039ff"/><stop offset="0.375" stop-color="#0025ff"/><stop offset="0.4062" stop-color="#0011ff"/><stop offset="0.4375" stop-color="#0000fe"/><stop offset="0.4688" stop-color="#0000ed"/><stop offset="0.5" stop-color="#0000de"/><stop offset="0.5312" stop-color="#0000d2"/><stop offset="0.5625" stop-color="#0000c7"/><stop offset="0.5938" stop-color="#0000bf"/><stop offset="0.625" stop-color="#0000ba"/><stop offset="0.6562" stop-color="#0000b6"/><stop offset="0.6875" stop-color="#0000b3"/><stop offset="0.7188" stop-color="#0000b2"/><stop offset="0.75" stop-color="#0000b3"/><stop offset="0.7812" stop-color="#0000b4"/><stop offset="0.8125" stop-color="#0000b7"/><stop offset="0.8438" stop-color="#0000b9"/><stop offset="0.875" stop-color="#0000bc"/><stop offset="0.9062" stop-color="#0000bf"/><stop offset="0.9375" stop-color="#0000c1"/><stop offset="0.9688" stop-color="#0000c2"/><stop offset="1" stop-color="#0000c3"/></linearGradient>
<linearGradient id="g23" gradientUnits="userSpaceOnUse" x1="0" y1="0" x2="32" y2="0" spreadMethod="reflect"><stop offset="0" stop-color="#00adff"/><stop offset="0.03125" stop-color="#00acff"/><stop offset="0.0625" stop-color="#00a9ff"/><stop offset="0.09375" stop-color="#00a3ff"/><stop offset="0.125" stop-color="#009bff"/><stop offset="0.1562" stop-color="#0090ff"/><stop offset="0.1875" stop-color="#0084ff"/><stop offset="0.2188" stop-color="#0075ff"/><stop offset="0.25" stop-color="#0064ff"/><stop offset="0.2812" stop-color="#0052ff"/><stop offset="0.3125" stop-color="#003fff"/><stop offset="0.3438" stop-color="#002cff"/><stop offset="0.375" stop-color="#0019ff"/><stop offset="0.4062" stop-color="#0006ff"/><stop offset="0.4375" stop-color="#0000f4"/><stop offset="0.4688" stop-color="#0000e5"/><stop offset="0.5" stop-color="#0000d7"/><stop offset="0.5312" stop-color="#0000cc"/><stop offset="0.5625" stop-color="#0000c3"/><stop offset="0.5938" stop-color="#0000bc"/><stop offset="0.625" stop-color="#0000b7"/><stop offset="0.6562" stop-color="#0000b4"/><stop offset="0.6875" stop-color="#0000b2"/><stop offset="0.7188" stop-color="#0000b2"/><stop offset="0.75" stop-color="#0000b4"/><stop offset="0.7812" stop-color="#0000b6"/><stop offset="0.8125" stop-color="#0000b9"/><stop offset="0.8438" stop-color="#0000bd"/><stop offset="0.875" stop-color="#0000c0"/><stop offset="0.9062" stop-color="#0000c4"/><stop offset="0.9375" stop-color="#0000c6"/><stop offset="0.9688" stop-color="#0000c8"/><stop offset="1" stop-color="#0000c9"/></linearGradient>
<linearGradient id="g24" gradientUnits="userSpaceOnUse" x1="0" y1="0" x2="32" y2="0" spreadMethod="reflect"><stop offset="0" stop-color="#009aff"/><stop offset="0.03125" stop-color="#0099ff"/><stop offset="0.0625" stop-color="#0096ff"/><stop offset="0.09375" stop-color="#0091ff"/><stop offset="0.125" stop-color="#0089ff"/><stop offset="0.1562" stop-color="#007fff"/><stop offset="0.1875" stop-color="#0073ff"/><stop offset="0.2188" stop-color="#0066ff"/><stop offset="0.25" stop-color="#0056ff"/><stop offset="0.2812" stop-color="#0045ff"/><stop offset="0.3125" stop-color="#0033ff"/><stop offset="0.3438" stop-color="#0021ff"/><stop offset="0.375" stop-color="#000fff"/><stop offset="0.4062" stop-color="#0000fd"/><stop offset="0.4375" stop-color="#0000ed"/><stop offset="0.4688" stop-color="#0000df"/><stop offset="0.5" stop-color="#0000d2"/><stop offset="0.5312" stop-color="#0000c8"/><stop offset="0.5625" stop-color="#0000c0"/><stop offset="0.5938" stop-color="#0000ba"/><stop offset="0.625" stop-color="#0000b6"/><stop offset="0.6562" stop-color="#0000b3"/><stop offset="0.6875" stop-color="#0000b3"/><stop offset="0.7188" stop-color="#0000b4"/><stop offset="0.75" stop-color="#0000b6"/><stop offset="0.7812" stop-color="#0000b9"/><stop offset="0.8125" stop-color="#0000bd"/><stop offset="0.8438" stop-color="#0000c1"/><stop offset="0.875" stop-color="#0000c6"/><stop offset="0.9062" stop-color="#0000ca"/><stop offset="0.9375" stop-color="#0000cd"/><stop offset="0.9688" stop-color="#0000cf"/><stop offset="1" stop-color="#0000d0"/></linearGradient>
<linearGradient id="g25" gradientUnits="userSpaceOnUse" x1="0" y1="0" x2="32" y2="0" spreadMethod="reflect"><stop offset="0" stop-color="#008aff"/><stop offset="0.03125" stop-color="#0089ff"/><stop offset="0.0625" stop-color="#0086ff"/><stop offset="0.09375" stop-color="#0081ff"/><stop offset="0.125" stop-color="#007aff"/><stop offset="0.1562" stop-color="#0071ff"/><stop offset="0.1875" stop-color="#0066ff"/><stop offset="0.2188" stop-color="#0059ff"/><stop offset="0.25" stop-color="#004aff"/><stop offset="0.2812" stop-color="#003aff"/><stop offset="0.3125" stop-color="#0029ff"/><stop offset="0.3438" stop-color="#0018ff"/><stop offset="0.375" stop-color="#0007ff"/><stop offset="0.4062" stop-color="#0000f6"/><stop offset="0.4375" stop-color="#0000e7"/><stop offset="0.4688" stop-color="#0000da"/><stop offset="0.5" stop-color="#0000cf"/><stop offset="0.5312" stop-color="#0000c5"/><stop offset="0.5625" stop-color="#0000be"/><stop offset="0.5938" stop-color="#0000b9"/><stop offset="0.625" stop-color="#0000b6"/><stop offset="0.6562" stop-color="#0000b4"/><stop offset="0.6875" stop-color="#0000b4"/><stop offset="0.7188" stop-color="#0000b6"/><stop offset="0.75" stop-color="#0000b9"/><stop offset="0.7812" stop-color="#0000bd"/><stop offset="0.8125" stop-color="#0000c2"/><stop offset="0.8438" stop-color="#0000c8"/><stop offset="0.875" stop-color="#0000cd"/><stop offset="0.9062" stop-color="#0000d2"/><stop offset="0.9375" stop-color="#0000d6"/><stop offset="0.9688" stop-color="#0000d8"/><stop offset="1" stop-color="#0000d9"/></linearGradient>
<linearGradient id="g26" gradientUnits="userSpaceOnUse" x1="0" y1="0" x2="32" y2="0" spreadMethod="reflect"><stop offset="0" stop-color="#007dff"/><stop offset="0.03125" stop-color="#007cff"/><stop offset="0.0625" stop-color="#0079ff"/><stop offset="0.09375" stop-color="#0074ff"/><stop offset="0.125" stop-color="#006dff"/><stop offset="0.1562" stop-color="#0065ff"/><stop offset="0.1875" stop-color="#005aff"/><stop offset="0.2188" stop-color="#004eff"/><stop offset="0.25" stop-color="#0040ff"/><stop offset="0.2812" stop-color="#0031ff"/><stop offset="0.3125" stop-color="#0021ff"/><stop offset="0.3438" stop-color="#0011ff"/><stop offset="0.375" stop-color="#0001ff"/><stop offset="0.4062" stop-color="#0000f1"/><stop offset="0.4375" stop-color="#0000e3"/><stop offset="0.4688" stop-color="#0000d7"/><stop offset="0.5" stop-color="#0000cc"/><stop offset="0.5312" stop-color="#0000c4"/><stop offset="0.5625" stop-color="#0000bd"/><stop offset="0.5938" stop-color="#0000b9"/><stop offset="0.625" stop-color="#0000b6"/><stop offset="0.6562" stop-color="#0000b6"/><stop offset="0.6875" stop-color="#0000b7"/><stop offset="0.7188" stop-color="#0000b9"/><stop offset="0.75" stop-color="#0000bd"/><stop offset="0.7812" stop-color="#0000c2"/><stop offset="0.8125" stop-color="#0000c8"/><stop offset="0.8438" stop-color="#0000cf"/><stop offset="0.875" stop-color="#0000d5"/><stop offset="0.9062" stop-color="#0000db"/><stop offset="0.9375" stop-color="#0000df"/><stop offset="0.9688" stop-color="#0000e2"/><stop offset="1" stop-color="#0000e3"/></linearGradient>
<linearGradient id="g27" gradientUnits="userSpaceOnUse" x1="0" y1="0" x2="32" y2="0" spreadMethod="reflect"><stop offset="0" stop-color="#0071ff"/><stop offset="0.03125" stop-color="#0071ff"/><stop offset="0.0625" stop-color="#006eff"/><stop offset="0.09375" stop-color="#0069ff"/><stop offset="0.125" stop-color="#0063ff"/><stop offset="0.1562" stop-color="#005bff"/><stop offset="0.1875" stop-color="#0051ff"/><stop offset="0.2188" stop-color="#0045ff"/><stop offset="0.25" stop-color="#0038ff"/><stop offset="0.2812" stop-color="#002aff"/><stop offset="0.3125" stop-color="#001bff"/><stop offset="0.3438" stop-color="#000cff"/><stop offset="0.375" stop-color="#0000fc"/><stop offset="0.4062" stop-color="#0000ed"/><stop offset="0.4375" stop-color="#0000e0"/><stop offset="0.4688" stop-color="#0000d5"/><stop offset="0.5" stop-color="#0000cb"/><stop offset="0.5312" stop-color="#0000c3"/><stop offset="0.5625" stop-color="#0000bd"/><stop offset="0.5938" stop-color="#0000b9"/><stop offset="0.625" stop-color="#0000b8"/><stop offset="0.6562" stop-color="#0000b8"/><stop offset="0.6875" stop-color="#0000b9"/><stop offset="0.7188" stop-color="#0000bd"/><stop offset="0.75" stop-color="#0000c1"/><stop offset="0.7812" stop-color="#0000c8"/><stop offset="0.8125" stop-color="#0000cf"/><stop offset="0.8438" stop-color="#0000d6"/><stop offset="0.875" stop-color="#0000dd"/><stop offset="0.9062" stop-color="#0000e4"/><stop offset="0.9375" stop-color="#0000e9"/><stop offset="0.9688" stop-color="#0000ec"/><stop offset="1" stop-color="#0000ed"/></linearGradient>
<linearGradient id="g28" gradientUnits="userSpaceOnUse" x1="0" y1="0" x2="32" y2="0" spreadMethod="reflect"><stop offset="0" stop-color="#0069ff"/><stop offset="0.03125" stop-color="#0068ff"/><stop offset="0.0625" stop-color="#0065ff"/><stop offset="0.09375" stop-color="#0061ff"/><stop offset="0.125" stop-color="#005bff"/><stop offset="0.1562" stop-color="#0053ff"/><stop offset="0.1875" stop-color="#004aff"/><stop offset="0.2188" stop-color="#003fff"/><stop offset="0.25" stop-color="#0032ff"/><stop offset="0.2812" stop-color="#0025ff"/><stop offset="0.3125" stop-color="#0016ff"/><stop offset="0.3438" stop-color="#0008ff"/><stop offset="0.375" stop-color="#0000f8"/><stop offset="0.4062" stop-color="#0000eb"/><stop offset="0.4375" stop-color="#0000de"/><stop offset="0.4688" stop-color="#0000d3"/><stop offset="0.5" stop-color="#0000ca"/><stop offset="0.5312" stop-color="#0000c3"/><stop offset="0.5625" stop-color="#0000be"/><stop offset="0.5938" stop-color="#0000ba"/><stop offset="0.625" stop-color="#0000b9"/><stop offset="0.6562" stop-color="#0000ba"/><stop offset="0.6875" stop-color="#0000bc"/><stop offset="0.7188" stop-color="#0000c0"/><stop offset="0.75" stop-color="#0000c6"/><stop offset="0.7812" stop-color="#0000cd"/><stop offset="0.8125" stop-color="#0000d5"/><stop offset="0.8438" stop-color="#0000dd"/><stop offset="0.875" stop-color="#0000e5"/><stop offset="0.9062" stop-color="#0000ec"/><stop offset="0.9375" stop-color="#0000f2"/><stop offset="0.9688" stop-color="#0000f6"/><stop offset="1" stop-color="#0000f7"/></linearGradient>
<linearGradient id="g29" gradientUnits="userSpaceOnUse" x1="0" y1="0" x2="32" y2="0" spreadMethod="reflect"><stop offset="0" stop-color="#0062ff"/><stop offset="0.03125" stop-color="#0061ff"/><stop offset="0.0625" stop-color="#005fff"/><stop offset="0.09375" stop-color="#005bff"/><stop offset="0.125" stop-color="#0055ff"/><stop offset="0.1562" stop-color="#004dff"/><stop offset="0.1875" stop-color="#0044ff"/><stop offset="0.2188" stop-color="#003aff"/><stop offset="0.25" stop-color="#002eff"/><stop offset="0.2812" stop-color="#0021ff"/><stop offset="0.3125" stop-color="#0013ff"/><stop offset="0.3438" stop-color="#0005ff"/><stop offset="0.375" stop-color="#0000f6"/><stop offset="0.4062" stop-color="#0000e9"/><stop offset="0.4375" stop-color="#0000dd"/><stop offset="0.4688" stop-color="#0000d3"/><stop offset="0.5" stop-color="#0000ca"/><stop offset="0.5312" stop-color="#0000c3"/><stop offset="0.5625" stop-color="#0000be"/><stop offset="0.5938" stop-color="#0000bc"/><stop offset="0.625" stop-color="#0000bb"/><stop offset="0.6562" stop-color="#0000bc"/><stop offset="0.6875" stop-color="#0000bf"/><stop offset="0.7188" stop-color="#0000c4"/><stop offset="0.75" stop-color="#0000ca"/><stop offset="0.7812" stop-color="#0000d2"/><stop offset="0.8125" stop-color="#0000db"/><stop offset="0.8438" stop-color="#0000e4"/><stop offset="0.875" stop-color="#0000ec"/><stop offset="0.9062" stop-color="#0000f4"/><stop offset="0.9375" stop-color="#0000fb"/><stop offset="0.9688" stop-color="#0000ff"/><stop offset="1" stop-color="#0001ff"/></linearGradient>
<linearGradient id="g30" gradientUnits="userSpaceOnUse" x1="0" y1="0" x2="32" y2="0" spreadMethod="reflect"><stop offset="0" stop-color="#005dff"/><stop offset="0.03125" stop-color="#005cff"/><stop offset="0.0625" stop-color="#005aff"/><stop offset="0.09375" stop-color="#0056ff"/><stop offset="0.125" stop-color="#0051ff"/><stop offset="0.1562" stop-color="#0049ff"/><stop offset="0.1875" stop-color="#0041ff"/><stop offset="0.2188" stop-color="#0036ff"/><stop offset="0.25" stop-color="#002bff"/><stop offset="0.2812" stop-color="#001eff"/><stop offset="0.3125" stop-color="#0010ff"/><stop offset="0.3438" stop-color="#0003ff"/><stop offset="0.375" stop-color="#0000f4"/><stop offset="0.4062" stop-color="#0000e8"/><stop offset="0.4375" stop-color="#0000dc"/><stop offset="0.4688" stop-color="#0000d2"/><stop offset="0.5" stop-color="#0000ca"/><stop offset="0.5312" stop-color="#0000c3"/><stop offset="0.5625" stop-color="#0000bf"/><stop offset="0.5938" stop-color="#0000bc"/><stop offset="0.625" stop-color="#0000bc"/><stop offset="0.6562" stop-color="#0000be"/><stop offset="0.6875" stop-color="#0000c1"/><stop offset="0.7188" stop-color="#0000c6"/><stop offset="0.75" stop-color="#0000cd"/><stop offset="0.7812" stop-color="#0000d6"/><stop offset="0.8125" stop-color="#0000df"/><stop offset="0.8438" stop-color="#0000e9"/><stop offset="0.875" stop-color="#0000f2"/><stop offset="0.9062" stop-color="#0000fb"/><stop offset="0.9375" stop-color="#0002ff"/><stop offset="0.9688" stop-color="#0006ff"/><stop offset="1" stop-color="#0008ff"/></linearGradient>
<linearGradient id="g31" gradientUnits="userSpaceOnUse" x1="0" y1="0" x2="32" y2="0" spreadMethod="reflect"><stop offset="0" stop-color="#005aff"/><stop offset="0.03125" stop-color="#0059ff"/><stop offset="0.0625" stop-color="#0057ff"/><stop offset="0.09375" stop-color="#0053ff"/><stop offset="0.125" stop-color="#004eff"/><stop offset="0.1562" stop-color="#0047ff"/><stop offset="0.1875" stop-color="#003eff"/><stop offset="0.2188" stop-color="#0034ff"/><stop offset="0.25" stop-color="#0029ff"/><stop offset="0.2812" stop-color="#001cff"/><stop offset="0.3125" stop-color="#000fff"/><stop offset="0.3438" stop-color="#0002ff"/><stop offset="0.375" stop-color="#0000f3"/><stop offset="0.4062" stop-color="#0000e7"/><stop offset="0.4375" stop-color="#0000dc"/><stop offset="0.4688" stop-color="#0000d2"/><stop offset="0.5" stop-color="#0000ca"/><stop offset="0.5312" stop-color="#0000c4"/><stop offset="0.5625" stop-color="#0000bf"/><stop offset="0.5938" stop-color="#0000bd"/><stop offset="0.625" stop-color="#0000bd"/><stop offset="0.6562" stop-color="#0000bf"/><stop offset="0.6875" stop-color="#0000c2"/><stop offset="0.7188" stop-color="#0000c8"/><stop offset="0.75" stop-color="#0000cf"/><stop offset="0.7812" stop-color="#0000d8"/><stop offset="0.8125" stop-color="#0000e2"/><stop offset="0.8438" stop-color="#0000ec"/><stop offset="0.875" stop-color="#0000f6"/><stop offset="0.9062" stop-color="#0000ff"/><stop offset="0.9375" stop-color="#0006ff"/><stop offset="0.9688" stop-color="#000bff"/><stop offset="1" stop-color="#000cff"/></linearGradient>
<linearGradient id="g32" gradientUnits="userSpaceOnUse" x1="0" y1="0" x2="32" y2="0" spreadMethod="reflect"><stop offset="0" stop-color="#0059ff"/><stop offset="0.03125" stop-color="#0059ff"/><stop offset="0.0625" stop-color="#0056ff"/><stop offset="0.09375" stop-color="#0052ff"/><stop offset="0.125" stop-color="#004dff"/><stop offset="0.1562" stop-color="#0046ff"/><stop offset="0.1875" stop-color="#003eff"/><stop offset="0.2188" stop-color="#0034ff"/><stop offset="0.25" stop-color="#0028ff"/><stop offset="0.2812" stop-color="#001cff"/><stop offset="0.3125" stop-color="#000fff"/><stop offset="0.3438" stop-color="#0001ff"/><stop offset="0.375" stop-color="#0000f3"/><stop offset="0.4062" stop-color="#0000e7"/><stop offset="0.4375" stop-color="#0000dc"/><stop offset="0.4688" stop-color="#0000d2"/><stop offset="0.5" stop-color="#0000ca"/><stop offset="0.5312" stop-color="#0000c4"/><stop offset="0.5625" stop-color="#0000c0"/><stop offset="0.5938" stop-color="#0000bd"/><stop offset="0.625" stop-color="#0000bd"/><stop offset="0.6562" stop-color="#0000bf"/><stop offset="0.6875" stop-color="#0000c3"/><stop offset="0.7188" stop-color="#0000c9"/><stop offset="0.75" stop-color="#0000d0"/><stop offset="0.7812" stop-color="#0000d9"/><stop offset="0.8125" stop-color="#0000e3"/><stop offset="0.8438" stop-color="#0000ed"/><stop offset="0.875" stop-color="#0000f7"/><stop offset="0.9062" stop-color="#0001ff"/><stop offset="0.9375" stop-color="#0008ff"/><stop offset="0.9688" stop-color="#000cff"/><stop offset="1" stop-color="#000eff"/></linearGradient>
<linearGradient id="cb" x1="0" y1="0" x2="0" y2="1"><stop offset="0" stop-color="#800000"/><stop offset="0.03125" stop-color="#9f0000"/><stop offset="0.0625" stop-color="#bf0000"/><stop offset="0.09375" stop-color="#df0000"/><stop offset="0.125" stop-color="#ff0000"/><stop offset="0.1562" stop-color="#ff2000"/><stop offset="0.1875" stop-color="#ff4000"/><stop offset="0.2188" stop-color="#ff6000"/><stop offset="0.25" stop-color="#ff8000"/><stop offset="0.2812" stop-color="#ff9f00"/><stop offset="0.3125" stop-color="#ffbf00"/><stop offset="0.3438" stop-color="#ffdf00"/><stop offset="0.375" stop-color="#ffff00"/><stop offset="0.4062" stop-color="#dfff20"/><stop offset="0.4375" stop-color="#bfff40"/><stop offset="0.4688" stop-color="#9fff60"/><stop offset="0.5" stop-color="#80ff80"/><stop offset="0.5312" stop-color="#60ff9f"/><stop offset="0.5625" stop-color="#40ffbf"/><stop offset="0.5938" stop-color="#20ffdf"/><stop offset="0.625" stop-color="#00ffff"/><stop offset="0.6562" stop-color="#00dfff"/><stop offset="0.6875" stop-color="#00bfff"/><stop offset="0.7188" stop-color="#009fff"/><stop offset="0.75" stop-color="#0080ff"/><stop offset="0.7812" stop-color="#0060ff"/><stop offset="0.8125" stop-color="#0040ff"/><stop offset="0.8438" stop-color="#0020ff"/><stop offset="0.875" stop-color="#0000ff"/><stop offset="0.9062" stop-color="#0000df"/><stop offset="0.9375" stop-color="#0000bf"/><stop offset="0.9688" stop-color="#00009f"/><stop offset="1" stop-color="#000080"/></linearGradient>
<clipPath id="hc"><rect x="239.9" y="44.0" width="189.90" height="191.10"/></clipPath>
</defs>
<rect width="550" height="301" fill="#fff"/>
<g stroke="#555" stroke-width="0.9" fill="none"><path d="M4.8 40.1H42"/><path d="M25.6 61V24"/></g>
<path d="M46.2 40.1l-5.9-2.8v5.6z" fill="#111"/><path d="M25.6 19.8l-2.8 5.9h5.6z" fill="#111"/>
<text transform="rotate(0.03 31.20 12.60)" x="31.20" y="12.60" font-size="19">y</text><text transform="rotate(0.03 52.10 39.30)" x="52.10" y="39.30" font-size="19">x</text>
<rect x="37.5" y="64.6" width="149.8" height="151.3" fill="#ffff00" stroke="#585864" stroke-width="1.15"/>
<g fill="none" stroke="#dfddd0" stroke-width="1.5"><circle cx="62.8" cy="73.1" r="2.75"/><circle cx="112.8" cy="73.1" r="2.75"/><circle cx="162.9" cy="73.1" r="2.75"/><circle cx="46.0" cy="89.9" r="2.75"/><circle cx="62.8" cy="89.9" r="2.75"/><circle cx="79.4" cy="89.9" r="2.75"/><circle cx="96.1" cy="89.9" r="2.75"/><circle cx="112.8" cy="89.9" r="2.75"/><circle cx="129.6" cy="89.9" r="2.75"/><circle cx="146.2" cy="89.9" r="2.75"/><circle cx="162.9" cy="89.9" r="2.75"/><circle cx="179.6" cy="89.9" r="2.75"/><circle cx="62.8" cy="106.8" r="2.75"/><circle cx="112.8" cy="106.8" r="2.75"/><circle cx="162.9" cy="106.8" r="2.75"/><circle cx="62.8" cy="123.6" r="2.75"/><circle cx="112.8" cy="123.6" r="2.75"/><circle cx="162.9" cy="123.6" r="2.75"/><circle cx="46.0" cy="140.5" r="2.75"/><circle cx="62.8" cy="140.5" r="2.75"/><circle cx="79.4" cy="140.5" r="2.75"/><circle cx="96.1" cy="140.5" r="2.75"/><circle cx="112.8" cy="140.5" r="2.75"/><circle cx="129.6" cy="140.5" r="2.75"/><circle cx="146.2" cy="140.5" r="2.75"/><circle cx="162.9" cy="140.5" r="2.75"/><circle cx="179.6" cy="140.5" r="2.75"/><circle cx="62.8" cy="157.3" r="2.75"/><circle cx="112.8" cy="157.3" r="2.75"/><circle cx="162.9" cy="157.3" r="2.75"/><circle cx="62.8" cy="174.1" r="2.75"/><circle cx="112.8" cy="174.1" r="2.75"/><circle cx="162.9" cy="174.1" r="2.75"/><circle cx="46.0" cy="191.0" r="2.75"/><circle cx="62.8" cy="191.0" r="2.75"/><circle cx="79.4" cy="191.0" r="2.75"/><circle cx="96.1" cy="191.0" r="2.75"/><circle cx="112.8" cy="191.0" r="2.75"/><circle cx="129.6" cy="191.0" r="2.75"/><circle cx="146.2" cy="191.0" r="2.75"/><circle cx="162.9" cy="191.0" r="2.75"/><circle cx="179.6" cy="191.0" r="2.75"/><circle cx="62.8" cy="207.8" r="2.75"/><circle cx="112.8" cy="207.8" r="2.75"/><circle cx="162.9" cy="207.8" r="2.75"/></g>
<g clip-path="url(#hc)"><g transform="translate(335.2 138.6) scale(0.99219)">
<rect x="-120" y="-112.5" width="240" height="3" fill="url(#g16)"/>
<rect x="-120" y="-111.5" width="240" height="3" fill="url(#g17)"/>
<rect x="-120" y="-110.5" width="240" height="3" fill="url(#g18)"/>
<rect x="-120" y="-109.5" width="240" height="3" fill="url(#g19)"/>
<rect x="-120" y="-108.5" width="240" height="3" fill="url(#g20)"/>
<rect x="-120" y="-107.5" width="240" height="3" fill="url(#g21)"/>
<rect x="-120" y="-106.5" width="240" height="3" fill="url(#g22)"/>
<rect x="-120" y="-105.5" width="240" height="3" fill="url(#g23)"/>
<rect x="-120" y="-104.5" width="240" height="3" fill="url(#g24)"/>
<rect x="-120" y="-103.5" width="240" height="3" fill="url(#g25)"/>
<rect x="-120" y="-102.5" width="240" height="3" fill="url(#g26)"/>
<rect x="-120" y="-101.5" width="240" height="3" fill="url(#g27)"/>
<rect x="-120" y="-100.5" width="240" height="3" fill="url(#g28)"/>
<rect x="-120" y="-99.5" width="240" height="3" fill="url(#g29)"/>
<rect x="-120" y="-98.5" width="240" height="3" fill="url(#g30)"/>
<rect x="-120" y="-97.5" width="240" height="3" fill="url(#g31)"/>
<rect x="-120" y="-96.5" width="240" height="3" fill="url(#g32)"/>
<rect x="-120" y="-95.5" width="240" height="3" fill="url(#g31)"/>
<rect x="-120" y="-94.5" width="240" height="3" fill="url(#g30)"/>
<rect x="-120" y="-93.5" width="240" height="3" fill="url(#g29)"/>
<rect x="-120" y="-92.5" width="240" height="3" fill="url(#g28)"/>
<rect x="-120" y="-91.5" width="240" height="3" fill="url(#g27)"/>
<rect x="-120" y="-90.5" width="240" height="3" fill="url(#g26)"/>
<rect x="-120" y="-89.5" width="240" height="3" fill="url(#g25)"/>
<rect x="-120" y="-88.5" width="240" height="3" fill="url(#g24)"/>
<rect x="-120" y="-87.5" width="240" height="3" fill="url(#g23)"/>
<rect x="-120" y="-86.5" width="240" height="3" fill="url(#g22)"/>
<rect x="-120" y="-85.5" width="240" height="3" fill="url(#g21)"/>
<rect x="-120" y="-84.5" width="240" height="3" fill="url(#g20)"/>
<rect x="-120" y="-83.5" width="240" height="3" fill="url(#g19)"/>
<rect x="-120" y="-82.5" width="240" height="3" fill="url(#g18)"/>
<rect x="-120" y="-81.5" width="240" height="3" fill="url(#g17)"/>
<rect x="-120" y="-80.5" width="240" height="3" fill="url(#g16)"/>
<rect x="-120" y="-79.5" width="240" height="3" fill="url(#g15)"/>
<rect x="-120" y="-78.5" width="240" height="3" fill="url(#g14)"/>
<rect x="-120" y="-77.5" width="240" height="3" fill="url(#g13)"/>
<rect x="-120" y="-76.5" width="240" height="3" fill="url(#g12)"/>
<rect x="-120" y="-75.5" width="240" height="3" fill="url(#g11)"/>
<rect x="-120" y="-74.5" width="240" height="3" fill="url(#g10)"/>
<rect x="-120" y="-73.5" width="240" height="3" fill="url(#g9)"/>
<rect x="-120" y="-72.5" width="240" height="3" fill="url(#g8)"/>
<rect x="-120" y="-71.5" width="240" height="3" fill="url(#g7)"/>
<rect x="-120" y="-70.5" width="240" height="3" fill="url(#g6)"/>
<rect x="-120" y="-69.5" width="240" height="3" fill="url(#g5)"/>
<rect x="-120" y="-68.5" width="240" height="3" fill="url(#g4)"/>
<rect x="-120" y="-67.5" width="240" height="3" fill="url(#g3)"/>
<rect x="-120" y="-66.5" width="240" height="3" fill="url(#g2)"/>
<rect x="-120" y="-65.5" width="240" height="3" fill="url(#g1)"/>
<rect x="-120" y="-64.5" width="240" height="3" fill="url(#g0)"/>
<rect x="-120" y="-63.5" width="240" height="3" fill="url(#g1)"/>
<rect x="-120" y="-62.5" width="240" height="3" fill="url(#g2)"/>
<rect x="-120" y="-61.5" width="240" height="3" fill="url(#g3)"/>
<rect x="-120" y="-60.5" width="240" height="3" fill="url(#g4)"/>
<rect x="-120" y="-59.5" width="240" height="3" fill="url(#g5)"/>
<rect x="-120" y="-58.5" width="240" height="3" fill="url(#g6)"/>
<rect x="-120" y="-57.5" width="240" height="3" fill="url(#g7)"/>
<rect x="-120" y="-56.5" width="240" height="3" fill="url(#g8)"/>
<rect x="-120" y="-55.5" width="240" height="3" fill="url(#g9)"/>
<rect x="-120" y="-54.5" width="240" height="3" fill="url(#g10)"/>
<rect x="-120" y="-53.5" width="240" height="3" fill="url(#g11)"/>
<rect x="-120" y="-52.5" width="240" height="3" fill="url(#g12)"/>
<rect x="-120" y="-51.5" width="240" height="3" fill="url(#g13)"/>
<rect x="-120" y="-50.5" width="240" height="3" fill="url(#g14)"/>
<rect x="-120" y="-49.5" width="240" height="3" fill="url(#g15)"/>
<rect x="-120" y="-48.5" width="240" height="3" fill="url(#g16)"/>
<rect x="-120" y="-47.5" width="240" height="3" fill="url(#g17)"/>
<rect x="-120" y="-46.5" width="240" height="3" fill="url(#g18)"/>
<rect x="-120" y="-45.5" width="240" height="3" fill="url(#g19)"/>
<rect x="-120" y="-44.5" width="240" height="3" fill="url(#g20)"/>
<rect x="-120" y="-43.5" width="240" height="3" fill="url(#g21)"/>
<rect x="-120" y="-42.5" width="240" height="3" fill="url(#g22)"/>
<rect x="-120" y="-41.5" width="240" height="3" fill="url(#g23)"/>
<rect x="-120" y="-40.5" width="240" height="3" fill="url(#g24)"/>
<rect x="-120" y="-39.5" width="240" height="3" fill="url(#g25)"/>
<rect x="-120" y="-38.5" width="240" height="3" fill="url(#g26)"/>
<rect x="-120" y="-37.5" width="240" height="3" fill="url(#g27)"/>
<rect x="-120" y="-36.5" width="240" height="3" fill="url(#g28)"/>
<rect x="-120" y="-35.5" width="240" height="3" fill="url(#g29)"/>
<rect x="-120" y="-34.5" width="240" height="3" fill="url(#g30)"/>
<rect x="-120" y="-33.5" width="240" height="3" fill="url(#g31)"/>
<rect x="-120" y="-32.5" width="240" height="3" fill="url(#g32)"/>
<rect x="-120" y="-31.5" width="240" height="3" fill="url(#g31)"/>
<rect x="-120" y="-30.5" width="240" height="3" fill="url(#g30)"/>
<rect x="-120" y="-29.5" width="240" height="3" fill="url(#g29)"/>
<rect x="-120" y="-28.5" width="240" height="3" fill="url(#g28)"/>
<rect x="-120" y="-27.5" width="240" height="3" fill="url(#g27)"/>
<rect x="-120" y="-26.5" width="240" height="3" fill="url(#g26)"/>
<rect x="-120" y="-25.5" width="240" height="3" fill="url(#g25)"/>
<rect x="-120" y="-24.5" width="240" height="3" fill="url(#g24)"/>
<rect x="-120" y="-23.5" width="240" height="3" fill="url(#g23)"/>
<rect x="-120" y="-22.5" width="240" height="3" fill="url(#g22)"/>
<rect x="-120" y="-21.5" width="240" height="3" fill="url(#g21)"/>
<rect x="-120" y="-20.5" width="240" height="3" fill="url(#g20)"/>
<rect x="-120" y="-19.5" width="240" height="3" fill="url(#g19)"/>
<rect x="-120" y="-18.5" width="240" height="3" fill="url(#g18)"/>
<rect x="-120" y="-17.5" width="240" height="3" fill="url(#g17)"/>
<rect x="-120" y="-16.5" width="240" height="3" fill="url(#g16)"/>
<rect x="-120" y="-15.5" width="240" height="3" fill="url(#g15)"/>
<rect x="-120" y="-14.5" width="240" height="3" fill="url(#g14)"/>
<rect x="-120" y="-13.5" width="240" height="3" fill="url(#g13)"/>
<rect x="-120" y="-12.5" width="240" height="3" fill="url(#g12)"/>
<rect x="-120" y="-11.5" width="240" height="3" fill="url(#g11)"/>
<rect x="-120" y="-10.5" width="240" height="3" fill="url(#g10)"/>
<rect x="-120" y="-9.5" width="240" height="3" fill="url(#g9)"/>
<rect x="-120" y="-8.5" width="240" height="3" fill="url(#g8)"/>
<rect x="-120" y="-7.5" width="240" height="3" fill="url(#g7)"/>
<rect x="-120" y="-6.5" width="240" height="3" fill="url(#g6)"/>
<rect x="-120" y="-5.5" width="240" height="3" fill="url(#g5)"/>
<rect x="-120" y="-4.5" width="240" height="3" fill="url(#g4)"/>
<rect x="-120" y="-3.5" width="240" height="3" fill="url(#g3)"/>
<rect x="-120" y="-2.5" width="240" height="3" fill="url(#g2)"/>
<rect x="-120" y="-1.5" width="240" height="3" fill="url(#g1)"/>
<rect x="-120" y="-0.5" width="240" height="3" fill="url(#g0)"/>
<rect x="-120" y="0.5" width="240" height="3" fill="url(#g1)"/>
<rect x="-120" y="1.5" width="240" height="3" fill="url(#g2)"/>
<rect x="-120" y="2.5" width="240" height="3" fill="url(#g3)"/>
<rect x="-120" y="3.5" width="240" height="3" fill="url(#g4)"/>
<rect x="-120" y="4.5" width="240" height="3" fill="url(#g5)"/>
<rect x="-120" y="5.5" width="240" height="3" fill="url(#g6)"/>
<rect x="-120" y="6.5" width="240" height="3" fill="url(#g7)"/>
<rect x="-120" y="7.5" width="240" height="3" fill="url(#g8)"/>
<rect x="-120" y="8.5" width="240" height="3" fill="url(#g9)"/>
<rect x="-120" y="9.5" width="240" height="3" fill="url(#g10)"/>
<rect x="-120" y="10.5" width="240" height="3" fill="url(#g11)"/>
<rect x="-120" y="11.5" width="240" height="3" fill="url(#g12)"/>
<rect x="-120" y="12.5" width="240" height="3" fill="url(#g13)"/>
<rect x="-120" y="13.5" width="240" height="3" fill="url(#g14)"/>
<rect x="-120" y="14.5" width="240" height="3" fill="url(#g15)"/>
<rect x="-120" y="15.5" width="240" height="3" fill="url(#g16)"/>
<rect x="-120" y="16.5" width="240" height="3" fill="url(#g17)"/>
<rect x="-120" y="17.5" width="240" height="3" fill="url(#g18)"/>
<rect x="-120" y="18.5" width="240" height="3" fill="url(#g19)"/>
<rect x="-120" y="19.5" width="240" height="3" fill="url(#g20)"/>
<rect x="-120" y="20.5" width="240" height="3" fill="url(#g21)"/>
<rect x="-120" y="21.5" width="240" height="3" fill="url(#g22)"/>
<rect x="-120" y="22.5" width="240" height="3" fill="url(#g23)"/>
<rect x="-120" y="23.5" width="240" height="3" fill="url(#g24)"/>
<rect x="-120" y="24.5" width="240" height="3" fill="url(#g25)"/>
<rect x="-120" y="25.5" width="240" height="3" fill="url(#g26)"/>
<rect x="-120" y="26.5" width="240" height="3" fill="url(#g27)"/>
<rect x="-120" y="27.5" width="240" height="3" fill="url(#g28)"/>
<rect x="-120" y="28.5" width="240" height="3" fill="url(#g29)"/>
<rect x="-120" y="29.5" width="240" height="3" fill="url(#g30)"/>
<rect x="-120" y="30.5" width="240" height="3" fill="url(#g31)"/>
<rect x="-120" y="31.5" width="240" height="3" fill="url(#g32)"/>
<rect x="-120" y="32.5" width="240" height="3" fill="url(#g31)"/>
<rect x="-120" y="33.5" width="240" height="3" fill="url(#g30)"/>
<rect x="-120" y="34.5" width="240" height="3" fill="url(#g29)"/>
<rect x="-120" y="35.5" width="240" height="3" fill="url(#g28)"/>
<rect x="-120" y="36.5" width="240" height="3" fill="url(#g27)"/>
<rect x="-120" y="37.5" width="240" height="3" fill="url(#g26)"/>
<rect x="-120" y="38.5" width="240" height="3" fill="url(#g25)"/>
<rect x="-120" y="39.5" width="240" height="3" fill="url(#g24)"/>
<rect x="-120" y="40.5" width="240" height="3" fill="url(#g23)"/>
<rect x="-120" y="41.5" width="240" height="3" fill="url(#g22)"/>
<rect x="-120" y="42.5" width="240" height="3" fill="url(#g21)"/>
<rect x="-120" y="43.5" width="240" height="3" fill="url(#g20)"/>
<rect x="-120" y="44.5" width="240" height="3" fill="url(#g19)"/>
<rect x="-120" y="45.5" width="240" height="3" fill="url(#g18)"/>
<rect x="-120" y="46.5" width="240" height="3" fill="url(#g17)"/>
<rect x="-120" y="47.5" width="240" height="3" fill="url(#g16)"/>
<rect x="-120" y="48.5" width="240" height="3" fill="url(#g15)"/>
<rect x="-120" y="49.5" width="240" height="3" fill="url(#g14)"/>
<rect x="-120" y="50.5" width="240" height="3" fill="url(#g13)"/>
<rect x="-120" y="51.5" width="240" height="3" fill="url(#g12)"/>
<rect x="-120" y="52.5" width="240" height="3" fill="url(#g11)"/>
<rect x="-120" y="53.5" width="240" height="3" fill="url(#g10)"/>
<rect x="-120" y="54.5" width="240" height="3" fill="url(#g9)"/>
<rect x="-120" y="55.5" width="240" height="3" fill="url(#g8)"/>
<rect x="-120" y="56.5" width="240" height="3" fill="url(#g7)"/>
<rect x="-120" y="57.5" width="240" height="3" fill="url(#g6)"/>
<rect x="-120" y="58.5" width="240" height="3" fill="url(#g5)"/>
<rect x="-120" y="59.5" width="240" height="3" fill="url(#g4)"/>
<rect x="-120" y="60.5" width="240" height="3" fill="url(#g3)"/>
<rect x="-120" y="61.5" width="240" height="3" fill="url(#g2)"/>
<rect x="-120" y="62.5" width="240" height="3" fill="url(#g1)"/>
<rect x="-120" y="63.5" width="240" height="3" fill="url(#g0)"/>
<rect x="-120" y="64.5" width="240" height="3" fill="url(#g1)"/>
<rect x="-120" y="65.5" width="240" height="3" fill="url(#g2)"/>
<rect x="-120" y="66.5" width="240" height="3" fill="url(#g3)"/>
<rect x="-120" y="67.5" width="240" height="3" fill="url(#g4)"/>
<rect x="-120" y="68.5" width="240" height="3" fill="url(#g5)"/>
<rect x="-120" y="69.5" width="240" height="3" fill="url(#g6)"/>
<rect x="-120" y="70.5" width="240" height="3" fill="url(#g7)"/>
<rect x="-120" y="71.5" width="240" height="3" fill="url(#g8)"/>
<rect x="-120" y="72.5" width="240" height="3" fill="url(#g9)"/>
<rect x="-120" y="73.5" width="240" height="3" fill="url(#g10)"/>
<rect x="-120" y="74.5" width="240" height="3" fill="url(#g11)"/>
<rect x="-120" y="75.5" width="240" height="3" fill="url(#g12)"/>
<rect x="-120" y="76.5" width="240" height="3" fill="url(#g13)"/>
<rect x="-120" y="77.5" width="240" height="3" fill="url(#g14)"/>
<rect x="-120" y="78.5" width="240" height="3" fill="url(#g15)"/>
<rect x="-120" y="79.5" width="240" height="3" fill="url(#g16)"/>
<rect x="-120" y="80.5" width="240" height="3" fill="url(#g17)"/>
<rect x="-120" y="81.5" width="240" height="3" fill="url(#g18)"/>
<rect x="-120" y="82.5" width="240" height="3" fill="url(#g19)"/>
<rect x="-120" y="83.5" width="240" height="3" fill="url(#g20)"/>
<rect x="-120" y="84.5" width="240" height="3" fill="url(#g21)"/>
<rect x="-120" y="85.5" width="240" height="3" fill="url(#g22)"/>
<rect x="-120" y="86.5" width="240" height="3" fill="url(#g23)"/>
<rect x="-120" y="87.5" width="240" height="3" fill="url(#g24)"/>
<rect x="-120" y="88.5" width="240" height="3" fill="url(#g25)"/>
<rect x="-120" y="89.5" width="240" height="3" fill="url(#g26)"/>
<rect x="-120" y="90.5" width="240" height="3" fill="url(#g27)"/>
<rect x="-120" y="91.5" width="240" height="3" fill="url(#g28)"/>
<rect x="-120" y="92.5" width="240" height="3" fill="url(#g29)"/>
<rect x="-120" y="93.5" width="240" height="3" fill="url(#g30)"/>
<rect x="-120" y="94.5" width="240" height="3" fill="url(#g31)"/>
<rect x="-120" y="95.5" width="240" height="3" fill="url(#g32)"/>
<rect x="-120" y="96.5" width="240" height="3" fill="url(#g31)"/>
<rect x="-120" y="97.5" width="240" height="3" fill="url(#g30)"/>
<rect x="-120" y="98.5" width="240" height="3" fill="url(#g29)"/>
<rect x="-120" y="99.5" width="240" height="3" fill="url(#g28)"/>
<rect x="-120" y="100.5" width="240" height="3" fill="url(#g27)"/>
<rect x="-120" y="101.5" width="240" height="3" fill="url(#g26)"/>
<rect x="-120" y="102.5" width="240" height="3" fill="url(#g25)"/>
<rect x="-120" y="103.5" width="240" height="3" fill="url(#g24)"/>
<rect x="-120" y="104.5" width="240" height="3" fill="url(#g23)"/>
<rect x="-120" y="105.5" width="240" height="3" fill="url(#g22)"/>
<rect x="-120" y="106.5" width="240" height="3" fill="url(#g21)"/>
<rect x="-120" y="107.5" width="240" height="3" fill="url(#g20)"/>
<rect x="-120" y="108.5" width="240" height="3" fill="url(#g19)"/>
<rect x="-120" y="109.5" width="240" height="3" fill="url(#g18)"/>
<rect x="-120" y="110.5" width="240" height="3" fill="url(#g17)"/>
<rect x="-120" y="111.5" width="240" height="3" fill="url(#g16)"/>
</g></g>
<rect x="239.9" y="44.0" width="189.90" height="191.10" fill="none" stroke="#00004a" stroke-opacity="0.35" stroke-width="0.6"/>
<path d="M252.9 235.1v-1.8M252.9 44.0v1.8M239.9 57.9h1.8M429.8 57.9h-1.8M269.3 235.1v-1.8M269.3 44.0v1.8M239.9 74.4h1.8M429.8 74.4h-1.8M285.8 235.1v-1.8M285.8 44.0v1.8M239.9 90.8h1.8M429.8 90.8h-1.8M302.2 235.1v-1.8M302.2 44.0v1.8M239.9 107.3h1.8M429.8 107.3h-1.8M318.7 235.1v-1.8M318.7 44.0v1.8M239.9 123.7h1.8M429.8 123.7h-1.8M335.1 235.1v-1.8M335.1 44.0v1.8M239.9 140.2h1.8M429.8 140.2h-1.8M351.6 235.1v-1.8M351.6 44.0v1.8M239.9 156.6h1.8M429.8 156.6h-1.8M368.0 235.1v-1.8M368.0 44.0v1.8M239.9 173.1h1.8M429.8 173.1h-1.8M384.5 235.1v-1.8M384.5 44.0v1.8M239.9 189.5h1.8M429.8 189.5h-1.8M400.9 235.1v-1.8M400.9 44.0v1.8M239.9 206.0h1.8M429.8 206.0h-1.8M417.4 235.1v-1.8M417.4 44.0v1.8M239.9 222.4h1.8M429.8 222.4h-1.8" stroke="#000030" stroke-opacity="0.45" stroke-width="0.6" fill="none"/>
<g font-size="13.8">
<text transform="rotate(0.03 234.20 61.95)" x="234.20" y="61.95" text-anchor="end">−5</text>
<text transform="rotate(0.03 234.20 78.53)" x="234.20" y="78.53" text-anchor="end">−4</text>
<text transform="rotate(0.03 234.20 95.11)" x="234.20" y="95.11" text-anchor="end">−3</text>
<text transform="rotate(0.03 234.20 111.69)" x="234.20" y="111.69" text-anchor="end">−2</text>
<text transform="rotate(0.03 234.20 128.27)" x="234.20" y="128.27" text-anchor="end">−1</text>
<text transform="rotate(0.03 234.20 144.85)" x="234.20" y="144.85" text-anchor="end">0</text>
<text transform="rotate(0.03 234.20 161.43)" x="234.20" y="161.43" text-anchor="end">1</text>
<text transform="rotate(0.03 234.20 178.01)" x="234.20" y="178.01" text-anchor="end">2</text>
<text transform="rotate(0.03 234.20 194.59)" x="234.20" y="194.59" text-anchor="end">3</text>
<text transform="rotate(0.03 234.20 211.17)" x="234.20" y="211.17" text-anchor="end">4</text>
<text transform="rotate(0.03 234.20 227.75)" x="234.20" y="227.75" text-anchor="end">5</text>
<text transform="rotate(0.03 250.60 253.30)" x="250.60" y="253.30" text-anchor="middle">−5</text>
<text transform="rotate(0.03 267.10 253.30)" x="267.10" y="253.30" text-anchor="middle">−4</text>
<text transform="rotate(0.03 283.60 253.30)" x="283.60" y="253.30" text-anchor="middle">−3</text>
<text transform="rotate(0.03 300.10 253.30)" x="300.10" y="253.30" text-anchor="middle">−2</text>
<text transform="rotate(0.03 316.60 253.30)" x="316.60" y="253.30" text-anchor="middle">−1</text>
<text transform="rotate(0.03 335.10 253.30)" x="335.10" y="253.30" text-anchor="middle">0</text>
<text transform="rotate(0.03 351.60 253.30)" x="351.60" y="253.30" text-anchor="middle">1</text>
<text transform="rotate(0.03 368.10 253.30)" x="368.10" y="253.30" text-anchor="middle">2</text>
<text transform="rotate(0.03 384.60 253.30)" x="384.60" y="253.30" text-anchor="middle">3</text>
<text transform="rotate(0.03 401.10 253.30)" x="401.10" y="253.30" text-anchor="middle">4</text>
<text transform="rotate(0.03 417.60 253.30)" x="417.60" y="253.30" text-anchor="middle">5</text>
</g>
<text transform="rotate(0.03 312.00 271.20)" x="312.00" y="271.20" font-size="15.5">x (mm)</text>
<text transform="translate(217.8 139.4) rotate(-89.97)" text-anchor="middle" font-size="15.8">y (mm)</text>
<text transform="rotate(0.03 251.90 292.60)" x="251.90" y="292.60" font-size="19.6">(d)</text>
<rect x="436.5" y="43.5" width="12.8" height="191.5" fill="url(#cb)" stroke="#202020" stroke-opacity="0.3" stroke-width="0.5"/>
<g font-size="12.5">
<text transform="rotate(0.03 453.80 47.50)" x="453.80" y="47.50">1</text>
<path d="M447.3 44.0h1.8" stroke="#333" stroke-width="0.5" opacity="0"/>
<text transform="rotate(0.03 453.30 85.90)" x="453.30" y="85.90">0.8</text>
<path d="M447.3 82.2h1.8" stroke="#333" stroke-width="0.5" opacity="0.8"/>
<text transform="rotate(0.03 453.30 124.30)" x="453.30" y="124.30">0.6</text>
<path d="M447.3 120.4h1.8" stroke="#333" stroke-width="0.5" opacity="0.8"/>
<text transform="rotate(0.03 453.30 162.70)" x="453.30" y="162.70">0.4</text>
<path d="M447.3 158.6h1.8" stroke="#333" stroke-width="0.5" opacity="0.8"/>
<text transform="rotate(0.03 453.30 201.10)" x="453.30" y="201.10">0.2</text>
<path d="M447.3 196.8h1.8" stroke="#333" stroke-width="0.5" opacity="0.8"/>
<text transform="rotate(0.03 453.30 239.50)" x="453.30" y="239.50">0</text>
<path d="M447.3 235.0h1.8" stroke="#333" stroke-width="0.5" opacity="0"/>
</g>
<text transform="rotate(0.03 433.00 27.30)" x="433.00" y="27.30" font-size="13">Normalized</text><text transform="rotate(0.03 501.10 27.30)" x="501.10" y="27.30" font-size="13">Intensity</text>
</svg></body></html>
